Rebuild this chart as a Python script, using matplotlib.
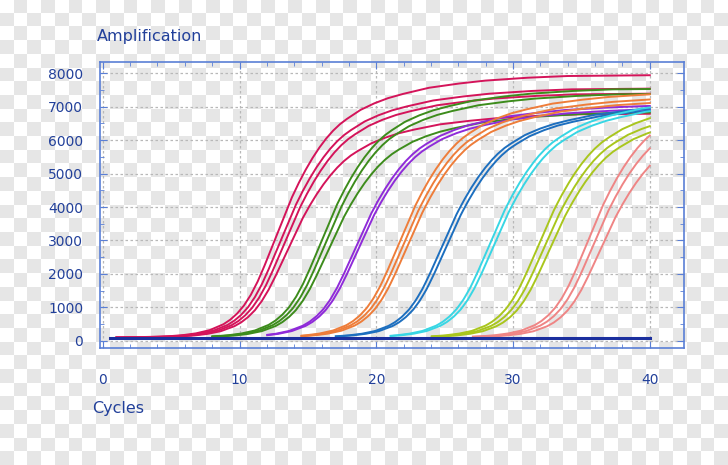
import numpy as np
import matplotlib
matplotlib.use("Agg")
import matplotlib.pyplot as plt

# normalised amplification shape (offset in cycles from midpoint -> fraction)
shape_offset = [-14, -12, -10, -9, -8, -7, -6, -5, -4.5, -4, -3.5, -3, -2.5, -2, -1.5, -1, -0.5, 0,
                0.5, 1, 1.5, 2, 2.5, 3, 3.5, 4, 5, 6, 7, 8, 10, 12, 14, 17, 20, 30]
shape_frac = [0.0, 0.001, 0.003, 0.005, 0.009, 0.016, 0.028, 0.05, 0.067, 0.09, 0.12, 0.16, 0.21,
              0.27, 0.335, 0.4, 0.465, 0.53, 0.585, 0.635, 0.68, 0.72, 0.755, 0.785, 0.81, 0.83,
              0.865, 0.89, 0.91, 0.925, 0.95, 0.965, 0.977, 0.988, 0.995, 1.0]

# groups: colour, start cycle, midpoints and plateaus of replicates
colors = ["#d4145a", "#3d8c1c", "#8f2bd9", "#ee7d3a", "#1d6fbf", "#38d6e4", "#a9c61d", "#ef8585"]
starts = [1, 8, 12, 14.5, 17, 21, 24, 27]
mids = [[13.8, 14.1, 14.4, 14.6], [17.1, 17.4, 17.6], [19.6, 19.8], [22.8, 23.1, 23.4],
        [25.9, 26.2], [29.4, 29.7], [33.0, 33.4, 33.8], [36.6, 37.0, 37.5]]
plateaus = [[7950, 7550, 7400, 6800], [7550, 7400, 6850], [7050, 6950], [7450, 7300, 7200],
            [7100, 7050], [7300, 7200], [7300, 7100, 6950], [7600, 7300, 6900]]
baseline = 100

checker = np.indices((34, 53)).sum(axis=0) % 2
fig = plt.figure(figsize=(7.28, 4.65), dpi=100)
bg = fig.add_axes([0, 0, 1, 1])
bg.imshow(checker, cmap=matplotlib.colors.ListedColormap(["#ffffff", "#e6e6e6"]),
          extent=[0, 728, 0, 465], aspect="auto", interpolation="nearest")
bg.axis("off")

ax = fig.add_axes([100 / 728, 1 - 348 / 465, 584 / 728, 286 / 465])
ax.patch.set_alpha(0)
for sp in ax.spines.values():
    sp.set_color("#5a7fd6")
    sp.set_linewidth(1.2)

x = np.linspace(0, 40, 400)
for c, s, ms, ps in zip(colors, starts, mids, plateaus):
    for m, p in zip(ms, ps):
        xs = x[x >= s]
        y = baseline + (p - baseline) * np.interp(xs - m, shape_offset, shape_frac)
        ax.plot(xs, y, color=c, lw=1.4)
ax.plot([0.5, 40], [baseline, baseline], color="#1b2f9e", lw=2.2)

ax.set_xlim(-0.2, 42.5)
ax.set_ylim(-210, 8330)
ax.set_xticks([0, 10, 20, 30, 40])
ax.set_yticks(range(0, 8001, 1000))
ax.set_xticks(np.arange(0, 42, 2), minor=True)
ax.set_yticks(range(0, 8001, 500), minor=True)
ax.grid(True, which="major", color="#b8b8b8", ls=(0, (2, 2)), lw=0.9)
ax.tick_params(which="both", direction="in", top=True, right=True, colors="#5a7fd6")
ax.tick_params(which="major", length=5, labelcolor="#22409a", labelsize=10)
ax.tick_params(which="minor", length=3)
ax.tick_params(axis="x", pad=18)
ax.tick_params(axis="y", pad=12)

fig.text(97 / 728, 1 - 37 / 465, "Amplification", color="#22409a", fontsize=11.5, va="center")
fig.text(92 / 728, 1 - 409 / 465, "Cycles", color="#22409a", fontsize=11.5, va="center")
fig.savefig("out.png", dpi=100)
